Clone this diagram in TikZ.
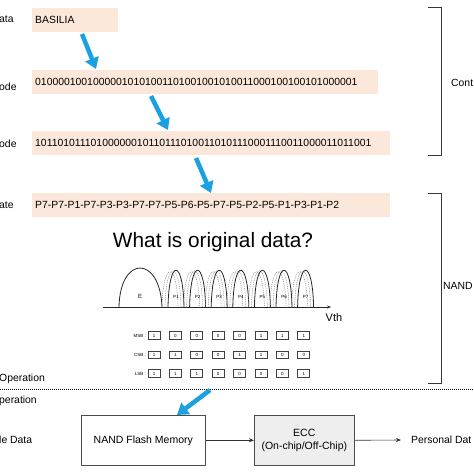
\documentclass[tikz,border=0pt]{standalone}
\usepackage{fontspec}
\setmainfont{Liberation Sans}
\usetikzlibrary{arrows.meta}
\definecolor{peach}{RGB}{252,232,218}
\definecolor{bluearr}{RGB}{27,160,225}
\definecolor{eccgray}{RGB}{238,238,238}
\definecolor{brk}{RGB}{55,55,55}
\begin{document}
\begin{tikzpicture}[x=1pt,y=-1pt,
 lbl/.style={font=\fontsize{10.4}{12}\selectfont, inner sep=0pt, anchor=west, text height=7.5pt, text depth=0pt},
 databox/.style={fill=peach, font=\fontsize{10.4}{12}\selectfont, anchor=north west, inner xsep=3pt, inner ysep=0pt, minimum height=24pt, align=left},
 bluearrow/.style={draw=bluearr, line width=4.5pt, -{Triangle[width=14pt,length=11pt]}},
 bracket/.style={draw=brk, line width=1pt},
 flowbox/.style={draw=black!70, line width=0.6pt, minimum height=50pt, font=\fontsize{10.5}{13}\selectfont, align=center, anchor=north west},
 thinarrow/.style={draw=black!80, line width=0.6pt, -{Stealth[length=5pt,width=4pt]}},
 curve/.style={draw=black!85, line width=0.8pt},
 dcurve/.style={draw=black!45, line width=0.5pt, dash pattern=on 1.2pt off 1pt},
 bitbox/.style={draw=black!75, line width=0.8pt, minimum width=12pt, minimum height=7.5pt, inner sep=0pt, font=\fontsize{4.5}{5}\selectfont},
 tiny/.style={font=\fontsize{4.5}{5}\selectfont, inner sep=0pt}
]
\useasboundingbox (0,0) rectangle (474,474);

% left labels (cut by the frame)
\node[lbl] (l1) at (-1,19) {ata};
\node[lbl] (l2) at (-1,87) {ode};
\node[lbl] (l3) at (-1,144) {ode};
\node[lbl] (l4) at (-1,205) {ate};
\node[lbl] (l5) at (-1,378) {Operation};
\node[lbl] (l6) at (-1,400) {peration};
\node[lbl] (l7) at (-1,440) {le Data};

% data boxes
\node[databox, text width=80pt] (b1) at (32,8) {BASILIA};
\node[databox, text width=340pt] (b2) at (32,70) {01000010010000010101001101001001010011000100100101000001};
\node[databox, text width=352pt] (b3) at (32,131) {101101011101000000101101110100110101110001110011000011011001};
\node[databox, text width=352pt] (b4) at (32,193) {P7-P7-P1-P7-P3-P3-P7-P7-P5-P6-P5-P7-P5-P2-P5-P1-P3-P1-P2};

% blue arrows
\coordinate (a1s) at (82,34);  \coordinate (a1e) at (96,69);
\coordinate (a2s) at (151,96); \coordinate (a2e) at (168,130);
\coordinate (a3s) at (196,158);\coordinate (a3e) at (211,193);
\coordinate (a4s) at (210,390);\coordinate (a4e) at (177,415);
\draw[bluearrow] (a1s) -- (a1e);
\draw[bluearrow] (a2s) -- (a2e);
\draw[bluearrow] (a3s) -- (a3e);

% right brackets
\draw[bracket] (428,7) -- (441,7) -- (441,155) -- (428,155);
\draw[bracket] (428,193) -- (441,193) -- (441,383) -- (428,383);
\node[lbl] (r1) at (451,83) {Cont};
\node[lbl] (r2) at (443,286) {NAND};

% question
\node[font=\fontsize{20.8}{24}\selectfont, inner sep=0pt] (q) at (213,242) {What is original data?};

% Vth distributions
\coordinate (v0) at (103,307); \coordinate (v1) at (331,307);
\draw[draw=black!85, line width=0.7pt, -{Stealth[length=4pt,width=3pt]}] (v0) -- (v1);
\node[font=\fontsize{11}{13}\selectfont, inner sep=0pt] (vth) at (334,318) {Vth};
\draw[curve] (119,307) .. controls (120,255) and (160,255) .. (162,307);
\node[font=\fontsize{6}{7}\selectfont, inner sep=0pt] (ne) at (140,296) {E};
\foreach \i in {1,...,7} {
  \pgfmathsetmacro\L{168+(\i-1)*21.6}
  \draw[dcurve] (\L-6,307) .. controls (\L-5,260) and (\L+9,260) .. (\L+10,307);
  \draw[dcurve] (\L-3,307) .. controls (\L-2,259) and (\L+12,259) .. (\L+13,307);
  \draw[curve] (\L,307) .. controls (\L+1,258) and (\L+15,258) .. (\L+16,307);
  \node[tiny] (np\i) at (\L+8,297) {P\i};
}

% bit tables
\node[tiny, anchor=east] (msb) at (146,335.5) {MSB :};
\node[tiny, anchor=east] (csb) at (146,355) {CSB :};
\node[tiny, anchor=east] (lsb) at (146,373.5) {LSB :};
\foreach \v [count=\j] in {1,0,0,0,0,1,1,1}
  \node[bitbox] (m\j) at (154+\j*21.4-21.4,335.5) {\v};
\foreach \v [count=\j] in {1,1,0,0,1,1,0,0}
  \node[bitbox] (c\j) at (154+\j*21.4-21.4,355) {\v};
\foreach \v [count=\j] in {1,1,1,0,0,0,0,1}
  \node[bitbox] (s\j) at (154+\j*21.4-21.4,373.5) {\v};

% dotted separator
\coordinate (d0) at (0,389); \coordinate (d1) at (474,389);
\draw[black, line width=0.8pt, dash pattern=on 1pt off 1pt] (d0) -- (d1);

% bottom flow
\node[flowbox, minimum width=124pt] (nand) at (81,415) {NAND Flash Memory};
\node[flowbox, minimum width=100pt, fill=eccgray] (ecc) at (254,415) {ECC\\(On-chip/Off-Chip)};
\node[lbl] (pd) at (411,440) {Personal Dat};
\draw[bluearrow] (a4s) -- (a4e);
\draw[thinarrow] (nand.east) -- (ecc.west);
\coordinate (pe) at (401,440);
\draw[thinarrow] (ecc.east) -- (pe);
\end{tikzpicture}
\end{document}
